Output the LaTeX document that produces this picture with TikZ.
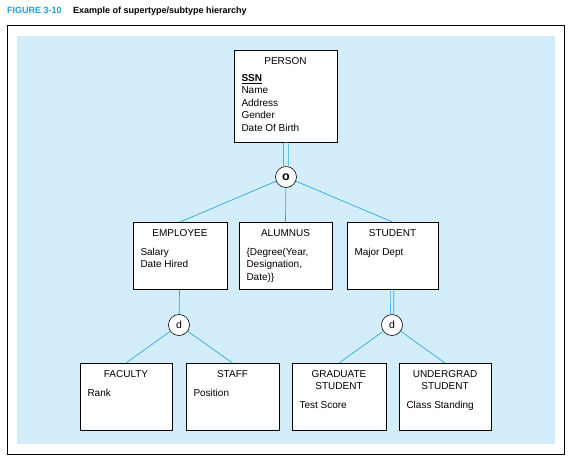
\documentclass[tikz,border=0pt]{standalone}
\usepackage{fontspec}
\setmainfont{Liberation Sans}
\usetikzlibrary{positioning, calc}

\definecolor{panelblue}{HTML}{D3EEFA}
\definecolor{linkblue}{HTML}{2BAAE2}
\definecolor{figblue}{HTML}{1E9FDD}

% entity box: width, height, title, attributes
\newcommand{\entbox}[4]{\parbox[c][#2][t]{#1}{\centering\rule{0pt}{14pt}#3\par\vspace{6.5pt}\raggedright\leftskip=7.5pt #4}}

\begin{document}
\begin{tikzpicture}[
    x=1pt, y=-1pt,
    entity/.style={
      draw, fill=white, line width=0.8pt, inner sep=0pt, anchor=north,
      font=\fontsize{10}{12.5}\selectfont
    },
    spec/.style={
      circle, draw, fill=white, line width=0.6pt, minimum size=21pt, inner sep=0pt,
      font=\fontsize{10.5}{10.5}\selectfont
    },
    link/.style={draw=linkblue, line width=0.7pt},
    dbl/.style={link, double=panelblue, double distance=#1},
    caption/.style={font=\fontsize{9}{11}\selectfont\bfseries, anchor=base west, inner sep=0pt}
]
\useasboundingbox (0,0) rectangle (572,465);

% Frame
\node[caption, text=figblue] (fig) at (7,13.5) {FIGURE 3-10};
\node[caption] (title) at (73,13.5) {Example of supertype/subtype hierarchy};
\draw[line width=0.9pt] (7,25) rectangle (564,454);
\fill[panelblue] (17,36) rectangle (555,444);

% Supertype
\node[entity] (person) at (285.5,50) {\entbox{103pt}{92pt}{PERSON}{\vspace{-2pt}\underline{\textbf{SSN}}\\Name\\Address\\Gender\\Date Of Birth}};
\node[spec] (ovl) at (286,177) {\fontsize{12.5}{12.5}\selectfont\textbf{o}};

% Level 1
\node[entity] (emp) at (180,222) {\entbox{94pt}{67pt}{EMPLOYEE}{Salary\\Date Hired}};
\node[entity] (alum) at (285.5,222) {\entbox{93pt}{67pt}{ALUMNUS}{\{Degree(Year,\\Designation,\\Date)\}}};
\node[entity] (stud) at (392.5,222) {\entbox{91pt}{67pt}{STUDENT}{Major Dept}};

\node[spec] (dEmp) at (179,325) {d};
\node[spec] (dStud) at (392,325) {d};

% Level 2
\node[entity] (fac) at (126,363) {\entbox{92pt}{67pt}{FACULTY}{Rank}};
\node[entity] (staff) at (232.5,363) {\entbox{93pt}{67pt}{STAFF}{Position}};
\node[entity] (grad) at (339,363) {\entbox{94pt}{67pt}{GRADUATE\\STUDENT}{Test Score}};
\node[entity] (ugrad) at (445,363) {\entbox{92pt}{67pt}{UNDERGRAD\\STUDENT}{Class Standing}};

% Connectors
\draw[dbl=4pt] (person) -- (ovl);
\draw[link] (ovl) -- (emp.north);
\draw[link] (ovl) -- (alum.north);
\draw[link] (ovl) -- (stud.north);
\draw[link] (emp) -- (dEmp);
\draw[link] (dEmp) -- (fac.north);
\draw[link] (dEmp) -- (staff.north);
\draw[dbl=2.4pt] (stud) -- (dStud);
\draw[link] (dStud) -- (grad.north);
\draw[link] (dStud) -- (ugrad.north);

\end{tikzpicture}
\end{document}
